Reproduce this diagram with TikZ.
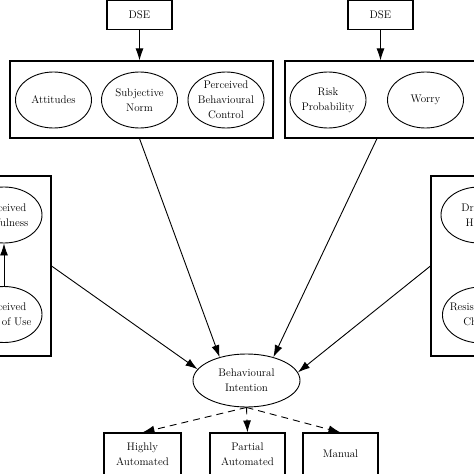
\documentclass[tikz,border=0pt]{standalone}
\usepackage{tikz}
\usetikzlibrary{shapes.geometric, arrows.meta, positioning}

\tikzset{
    groupbox/.style={draw, rectangle, line width=1.1pt, inner sep=0pt},
    factor/.style={draw, ellipse, line width=0.9pt, minimum width=76pt, minimum height=56pt,
        inner sep=-2pt, align=center, font=\fontsize{11}{15}\selectfont},
    labelbox/.style={draw, rectangle, line width=1.1pt, align=center, inner sep=0pt,
        font=\fontsize{11}{15}\selectfont},
    causal/.style={-{Latex[length=12pt,width=8pt]}, line width=0.9pt},
    choice/.style={causal, dash pattern=on 7pt off 5pt}
}

\begin{document}
\begin{tikzpicture}[x=1pt, y=-1pt]
    \useasboundingbox (0,0) rectangle (474,474);
    \clip (0,0) rectangle (474,474);

    % DSE boxes
    \node[labelbox, minimum width=65pt, minimum height=29pt] (dseL) at (139.5,15) {DSE};
    \node[labelbox, minimum width=65pt, minimum height=29pt] (dseR) at (380.5,15) {DSE};

    % Gruppi
    \node[groupbox, minimum width=263pt, minimum height=77pt] (grpTPB) at (141.5,99.5) {};
    \node[groupbox, minimum width=193pt, minimum height=77pt] (grpRisk) at (381.5,99.5) {};
    \node[groupbox, minimum width=94pt, minimum height=180pt] (grpTAM) at (4,266) {};
    \node[groupbox, minimum width=96pt, minimum height=180pt] (grpHab) at (479,266) {};

    % Fattori in alto
    \foreach \name/\x/\txt in {att/53.5/Attitudes, sn/139.5/Subjective\\Norm,
        pbc/226/Perceived\\Behavioural\\Control, rp/328/Risk\\Probability, wo/425.5/Worry}
        \node[factor] (\name) at (\x,100) {\txt};

    % Fattori laterali
    \node[factor] (pu) at (4,215) {Perceived\\Usefulness};
    \node[factor] (peou) at (4,314.5) {Perceived\\Ease of Use};
    \node[factor] (dh) at (479,215) {Driving\\Habit};
    \node[factor, inner sep=-4pt] (rc) at (481,315) {Resistance to\\Change};

    % Intenzione
    \node[factor, minimum width=107pt, minimum height=53pt] (bi) at (246.5,380.5) {Behavioural\\Intention};

    % Scelte
    \foreach \name/\x/\w/\txt in {ha/142.5/77/Highly\\Automated, pa/247.5/75/Partial\\Automated,
        ma/340.5/75/Manual}
        \node[labelbox, minimum width=\w pt, minimum height=42pt] (\name) at (\x,454) {\txt};

    % Frecce
    \draw[causal] (dseL) -- (dseL |- grpTPB.north);
    \draw[causal] (dseR) -- (dseR |- grpRisk.north);
    \draw[causal] (peou) -- (pu);
    \draw[causal] (sn.south |- grpTPB.south) -- (bi.139);
    \draw[causal] ([xshift=-3.5pt]dseR.south |- grpRisk.south) -- (bi.41);
    \draw[causal] (grpTAM.east) -- (bi.167);
    \draw[causal] (grpHab.west) -- (bi.9);
    \foreach \out in {ha, pa, ma}
        \draw[choice] (bi.south) -- (\out.north);
\end{tikzpicture}
\end{document}
